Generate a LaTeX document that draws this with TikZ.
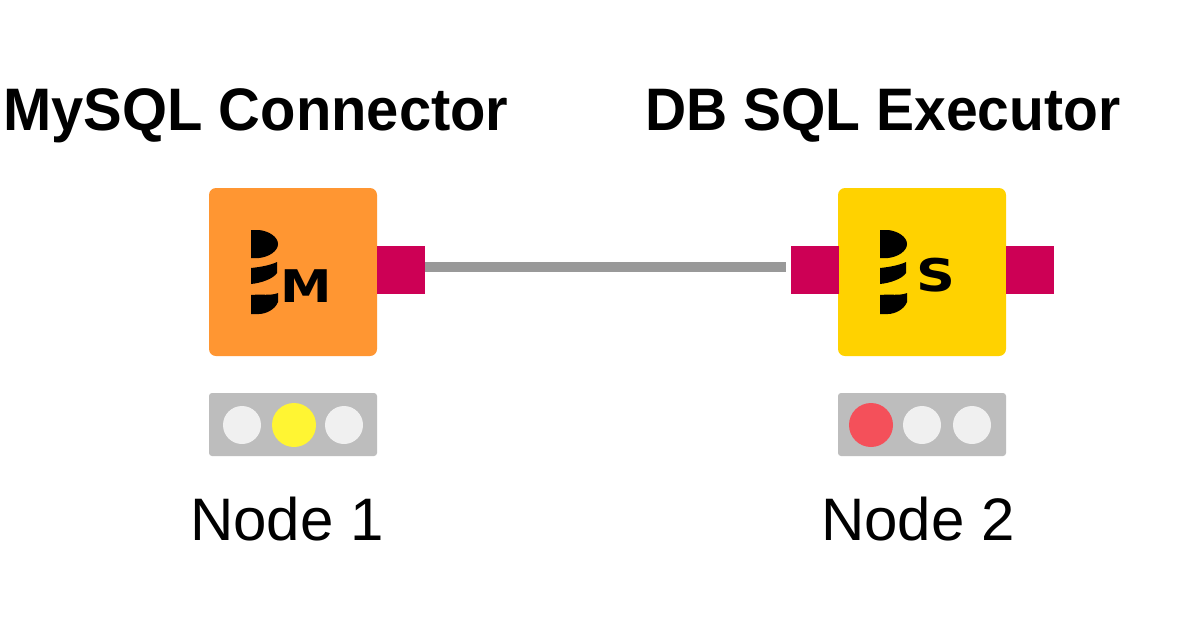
\documentclass[tikz,border=0pt]{standalone}
\usepackage{fontspec}
\setmainfont{Liberation Sans}
\newfontfamily\glyphfont{DejaVu Sans}
\definecolor{nodeorange}{HTML}{FF9632}
\definecolor{nodeyellow}{HTML}{FFD200}
\definecolor{portred}{HTML}{CD0055}
\definecolor{linegray}{HTML}{999999}
\definecolor{panelgray}{HTML}{BDBDBD}
\definecolor{lampoff}{HTML}{F0F0F0}
\definecolor{lampyellow}{HTML}{FFF533}
\definecolor{lampred}{HTML}{F4505A}
\tikzset{
  titlelabel/.style={font=\fontsize{60}{60}\selectfont\bfseries,anchor=base},
  namelabel/.style={font=\fontsize{60}{60}\selectfont,anchor=base},
  nodebox/.style={minimum width=168pt,minimum height=168pt,rounded corners=7pt,inner sep=0pt},
  portbox/.style={fill=portred,minimum width=47.5pt,minimum height=48pt,inner sep=0pt},
  statusbox/.style={fill=panelgray,minimum width=168pt,minimum height=63pt,rounded corners=3pt,inner sep=0pt},
  lamp/.style={circle,inner sep=0pt,minimum size=#1},
  iconletter/.style={font=\glyphfont\bfseries\fontsize{45}{45}\selectfont,inner sep=0pt},
  dbicon/.pic={
    \fill[black] (0,0) -- (8,0) .. controls (18,1) and (27,7) .. (27,14) .. controls (27,21) and (18,27) .. (8,28) -- (0,28) -- cycle;
    \fill[black] (0,38) .. controls (10,37) and (20,35) .. (26,32) -- (26,43) .. controls (22,49) and (10,53) .. (0,54) -- cycle;
    \fill[black] (0,65) .. controls (10,64) and (20,66) .. (27,63) -- (27,72) .. controls (24,80) and (14,84) .. (8,84) -- (0,84) -- cycle;
  }
}
\begin{document}
\begin{tikzpicture}[x=1pt,y=-1pt]
\useasboundingbox[fill=white] (0,0) rectangle (1200,630);
% titles
\node[titlelabel,xscale=0.965] (title1) at (256,130) {MySQL Connector};
\node[titlelabel,xscale=0.95] (title2) at (883,130) {DB SQL Executor};
% first node
\node[nodebox,fill=nodeorange] (conn) at (293,272) {};
\node[portbox] (conn out) at (401,270) {};
\pic at (251,230) {dbicon};
\node[iconletter,xscale=1.15] (conn letter) at (306.5,286) {M};
\node[statusbox] (status1) at (293,424.5) {};
\node[lamp=38pt,fill=lampoff] (lamp11) at (242,425) {};
\node[lamp=44pt,fill=lampyellow] (lamp12) at (294,425) {};
\node[lamp=38pt,fill=lampoff] (lamp13) at (344,425) {};
\node[namelabel] (name1) at (287,540) {Node 1};
% second node
\node[nodebox,fill=nodeyellow] (exec) at (922,272) {};
\node[portbox] (exec in) at (814.75,270) {};
\node[portbox] (exec out) at (1029.75,270) {};
\pic at (880,230) {dbicon};
\node[iconletter,xscale=1.2] (exec letter) at (936,275) {S};
\node[statusbox] (status2) at (922,424.5) {};
\node[lamp=44pt,fill=lampred] (lamp21) at (871,425) {};
\node[lamp=38pt,fill=lampoff] (lamp22) at (922,425) {};
\node[lamp=38pt,fill=lampoff] (lamp23) at (972,425) {};
\node[namelabel] (name2) at (918,540) {Node 2};
% connection
\draw[linegray,line width=10pt,shorten >=5pt] ([yshift=3pt]conn out.east) -- ([yshift=3pt]exec in.west);
\end{tikzpicture}
\end{document}
